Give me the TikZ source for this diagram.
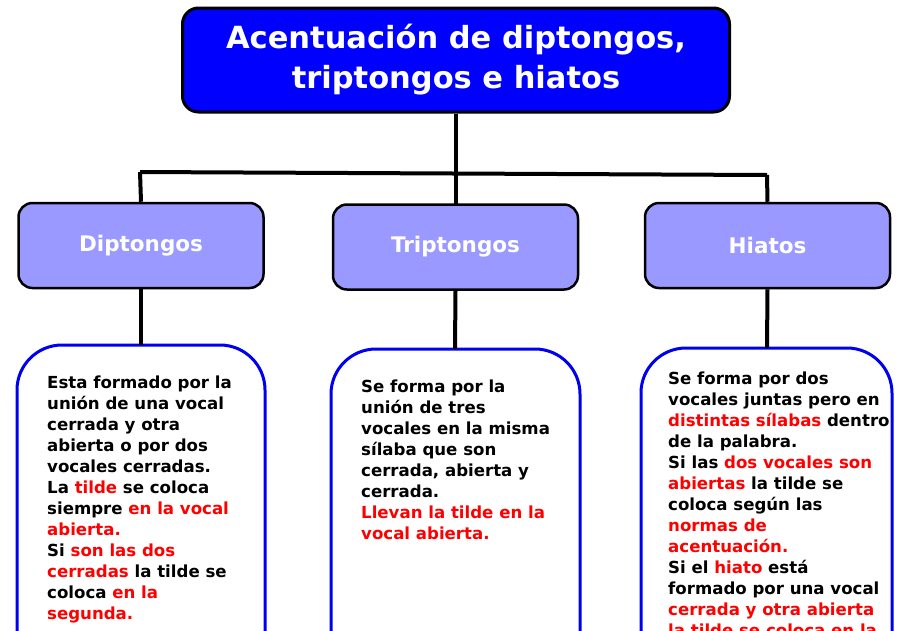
\documentclass[tikz,border=0pt]{standalone}
\usepackage{fontspec}
\setmainfont{DejaVu Sans}
\begin{document}
\begin{tikzpicture}[x=1pt,y=-1pt,
  conn/.style={line width=4pt,black},
  lvl/.style={draw=black,line width=2.5pt,fill={rgb,255:red,153;green,153;blue,255},rounded corners=14pt,minimum width=245pt,minimum height=85pt,text=white,font=\bfseries\fontsize{21.5}{25}\selectfont},
  leaf/.style={draw={rgb,255:red,0;green,0;blue,240},line width=3pt,fill=white,rounded corners=45pt},
  txt/.style={anchor=north west,align=left,inner sep=0pt,font=\bfseries\fontsize{16.6}{21}\selectfont}]
\useasboundingbox (0,0) rectangle (908,630);
\clip (0,0) rectangle (908,630);
\fill[white] (0,0) rectangle (908,630);
% connectors
\coordinate (hl) at (140,172);
\coordinate (hr) at (767,175);
\node[draw=black,line width=3pt,fill={rgb,255:red,0;green,0;blue,255},rounded corners=16pt,minimum width=547pt,minimum height=104pt,text=white,align=center,font=\bfseries\fontsize{30.5}{40}\selectfont] (title) at (456,60) {Acentuación de diptongos,\\triptongos e hiatos};
\draw[conn] (title.south) -- (456,205);
\draw[conn] (hl) -- (hr);
\node[lvl] (d) at (141,245.5) {Diptongos};
\node[lvl] (t) at (455.5,247) {Triptongos};
\node[lvl] (h) at (767.5,245.5) {Hiatos};
\draw[conn] (hl) -- (d.north);
\draw[conn] (hr) -- (h.north);
\draw[leaf] (17,700) -- (17,345) -- (265,345) -- (265,700);
\draw[leaf] (331,700) -- (331,349) -- (580,349) -- (580,700);
\draw[leaf] (641,700) -- (641,348) -- (892,348) -- (892,700);
\coordinate (l1) at (141,345);
\coordinate (l2) at (455,349);
\coordinate (l3) at (767,348);
\draw[conn] (d.south) -- (l1);
\draw[conn] (t.south) -- (l2);
\draw[conn] (h.south) -- (l3);
\node[txt] (x1) at (47,376) {Esta formado por la\\unión de una vocal\\cerrada y otra\\abierta o por dos\\vocales cerradas.\\La \textcolor{red}{tilde} se coloca\\siempre \textcolor{red}{en la vocal}\\\textcolor{red}{abierta.}\\Si \textcolor{red}{son las dos}\\\textcolor{red}{cerradas} la tilde se\\coloca \textcolor{red}{en la}\\\textcolor{red}{segunda.}};
\node[txt] (x2) at (361,380) {Se forma por la\\unión de tres\\vocales en la misma\\sílaba que son\\cerrada, abierta y\\cerrada.\\\textcolor{red}{Llevan la tilde en la}\\\textcolor{red}{vocal abierta.}};
\node[txt] (x3) at (668,372) {Se forma por dos\\vocales juntas pero en\\\textcolor{red}{distintas sílabas} dentro\\de la palabra.\\Si las \textcolor{red}{dos vocales son}\\\textcolor{red}{abiertas} la tilde se\\coloca según las\\\textcolor{red}{normas de}\\\textcolor{red}{acentuación.}\\Si el \textcolor{red}{hiato} está\\formado por una vocal\\\textcolor{red}{cerrada y otra abierta}\\\textcolor{red}{la tilde se coloca en la}};
\end{tikzpicture}
\end{document}
